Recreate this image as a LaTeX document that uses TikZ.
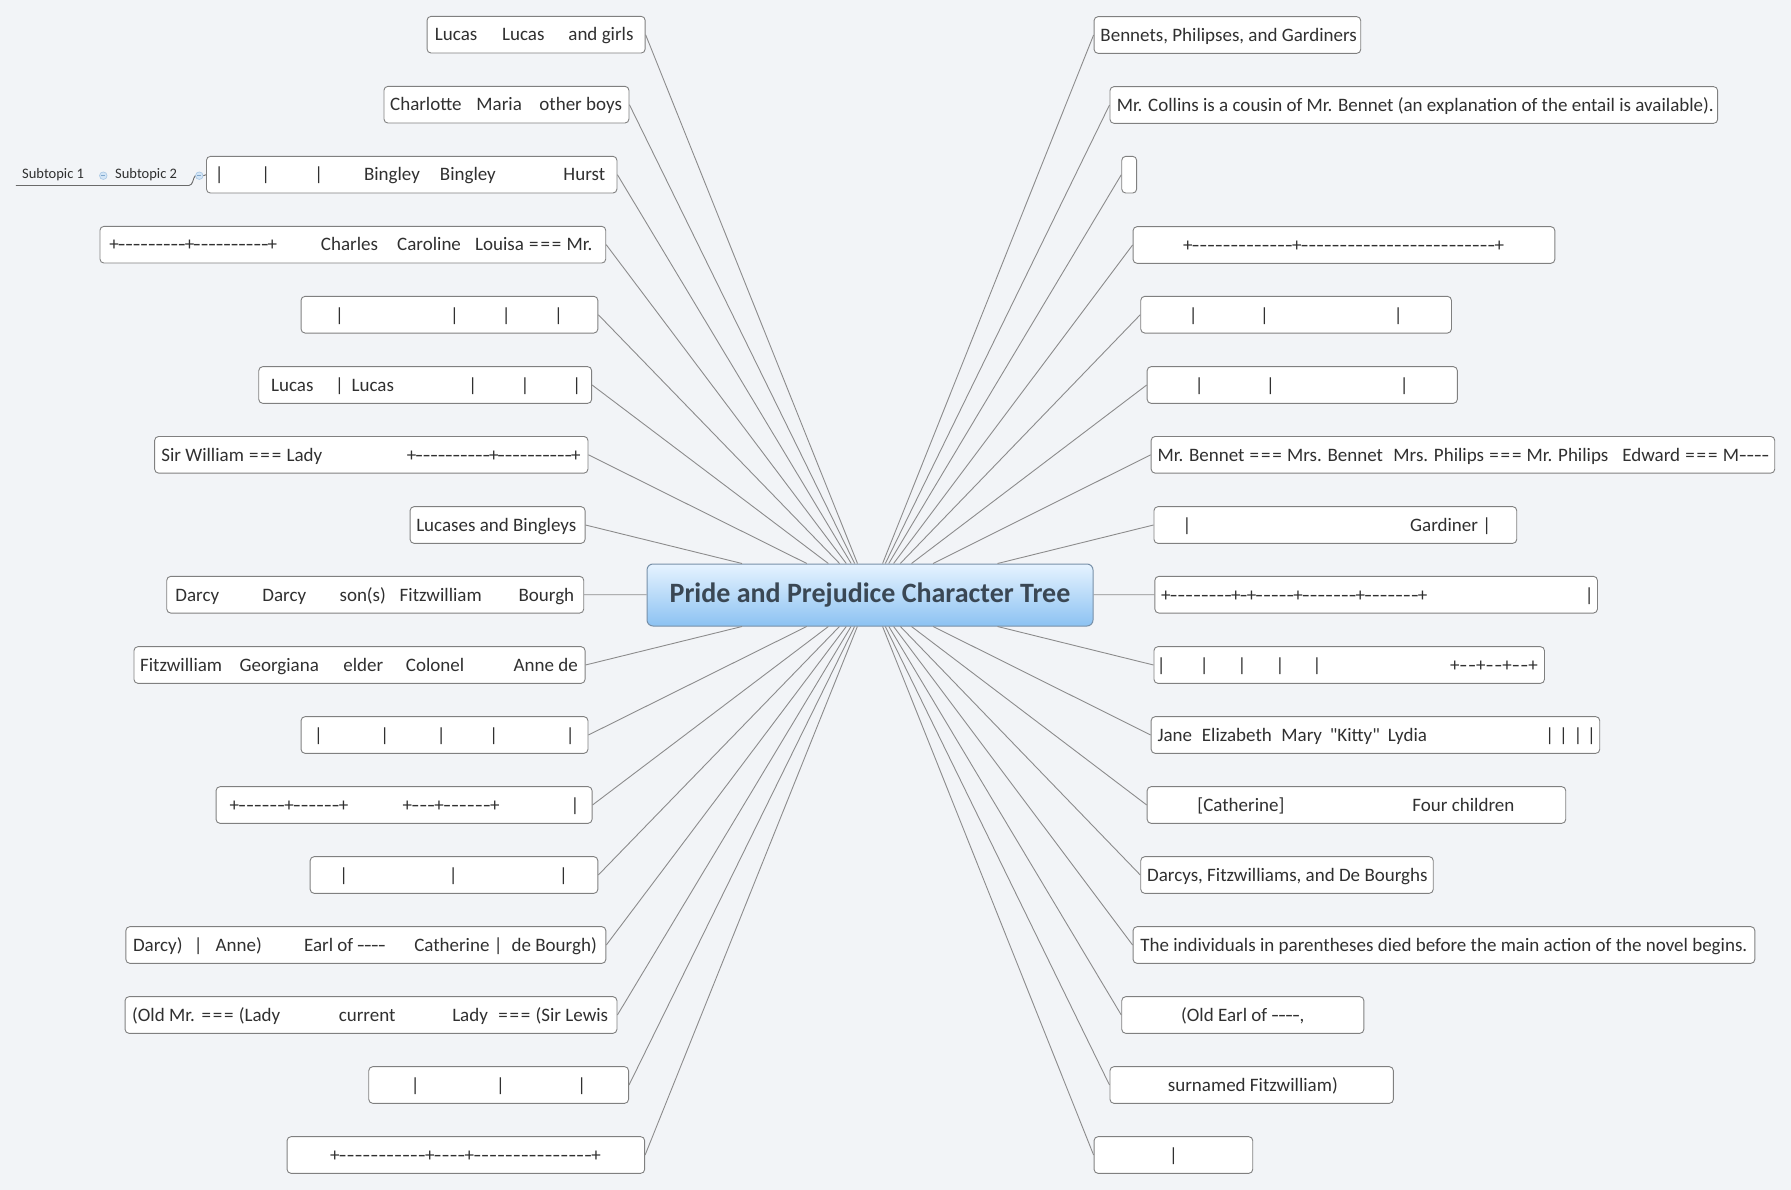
\documentclass[tikz,border=0pt]{standalone}
\usepackage{fontspec}
\usepackage{graphicx}
\setmainfont{Carlito}[Ligatures=TeXOff]
\definecolor{bg}{HTML}{F2F4F7}
\definecolor{boxline}{HTML}{808080}
\definecolor{connc}{HTML}{8C8C8C}
\definecolor{txt}{HTML}{303030}
\definecolor{cTop}{HTML}{E6F3FF}
\definecolor{cBot}{HTML}{8CC2F2}
\definecolor{cBorder}{HTML}{7890A8}
\definecolor{titlec}{HTML}{3A4754}
\definecolor{togfill}{HTML}{D3E5F6}
\definecolor{togline}{HTML}{A8C6E4}
\definecolor{togminus}{HTML}{7FA6CC}
\definecolor{subline}{HTML}{6A6A6A}
\ExplSyntaxOn
\dim_new:N \l_rs_char_dim
\NewDocumentCommand\dstr{mm}{
  \dim_set:Nn \l_rs_char_dim { #1pt / \tl_count:n {#2} }
  \tl_map_inline:nn {#2}{\makebox[\l_rs_char_dim]{\str_if_eq:nnTF{##1}{-}{\scalebox{1.3}[1]{-}}{##1}}}
}
\ExplSyntaxOff
\newcommand\fs{\fontsize{19pt}{22pt}\selectfont}
\newcommand\sg[2]{\rlap{\hspace*{#1pt}#2}}
\newcommand\pp[1]{\rlap{\hspace*{#1pt}\makebox[0pt]{|}}}
\newcommand\bx[2]{\hbox to #1pt{#2\hfil}}
\newcommand\eqs{\dstr{34}{===}}
\tikzset{
  box/.style={draw=boxline, fill=white, rounded corners=4pt, inner sep=0pt,
    minimum height=36.7pt, text height=13pt, text depth=0.4pt, anchor=west,
    font=\fs, text=txt, line width=0.9pt},
  conn/.style={draw=connc, line width=0.9pt},
  topic/.style={draw=cBorder, top color=cTop, bottom color=cBot, rounded corners=6pt,
    minimum width=446pt, minimum height=62pt, inner sep=0pt, line width=1pt,
    text height=19pt, text depth=3.6pt,
    font=\bfseries\fontsize{28pt}{30pt}\selectfont, text=titlec},
  sub/.style={inner sep=0pt, anchor=base west, font=\fontsize{14.5pt}{17pt}\selectfont, text=txt},
  tog/.style={circle, draw=togline, fill=togfill, minimum size=7.6pt, inner sep=0pt, line width=0.6pt,
    path picture={\draw[togminus, line width=0.8pt] ([xshift=-2pt]path picture bounding box.center) -- ([xshift=2pt]path picture bounding box.center);}},
  subl/.style={draw=subline, line width=0.9pt}
}
\begin{document}
\begin{tikzpicture}[x=1pt,y=-1pt]
\fill[bg] (0,0) rectangle (1791,1190);
\useasboundingbox (0,0) rectangle (1791,1190);

\node[topic] (c) at (870,595) {Pride and Prejudice Character Tree};

% left side
\node[box] (l1) at (426.6,34.7) {\bx{218.1}{\sg{7.9}{Lucas}\sg{75.1}{Lucas}\sg{141.4}{and girls}}};
\node[box] (l2) at (383.5,104.7) {\bx{245}{\sg{6.2}{Charlotte}\sg{92.5}{Maria}\sg{155.5}{other boys}}};
\node[box] (l3) at (206,174.7) {\bx{410.5}{\pp{12.9}\pp{59.3}\pp{112.4}\sg{157.6}{Bingley}\sg{233.5}{Bingley}\sg{357}{Hurst}}};
\node[box] (l4) at (99.5,244.7) {\bx{505.8}{\sg{10.4}{\dstr{165.8}{+---------+----------+}}\sg{221}{Charles}\sg{297.3}{Caroline}\sg{375.2}{Louisa \eqs{} Mr.}}};
\node[box] (l5) at (300.6,314.7) {\bx{296.8}{\pp{38.5}\pp{153.4}\pp{205.2}\pp{257.4}}};
\node[box] (l6) at (258.3,385) {\bx{332.9}{\sg{12.4}{Lucas}\pp{80.8}\sg{92.9}{Lucas}\pp{213.9}\pp{266.2}\pp{318}}};
\node[box] (l7) at (154.2,454.8) {\bx{433.3}{\sg{6.7}{Sir William \eqs{} Lady}\sg{253.3}{\dstr{171.7}{+----------+----------+}}}};
\node[box] (l8) at (409.6,525) {\bx{175}{\sg{6.2}{Lucases and Bingleys}}};
\node[box] (l9) at (166.3,594.7) {\bx{417}{\sg{8.7}{Darcy}\sg{95.7}{Darcy}\sg{172.8}{son(s)}\sg{233}{Fitzwilliam}\sg{351.9}{Bourgh}}};
\node[box] (l10) at (133.5,665) {\bx{451.1}{\sg{6.2}{Fitzwilliam}\sg{105.7}{Georgiana}\sg{209.4}{elder}\sg{272}{Colonel}\sg{379.8}{Anne de}}};
\node[box] (l11) at (300.6,735) {\bx{286.9}{\pp{17.4}\pp{83.7}\pp{140.1}\pp{192.8}\pp{269.1}}};
\node[box] (l12) at (215.6,805) {\bx{376}{\sg{14.5}{\dstr{116.9}{+------+------+}}\sg{187.4}{\dstr{95.3}{+---+------+}}\pp{359}}};
\node[box] (l13) at (309.7,875) {\bx{287.7}{\pp{33.6}\pp{143}\pp{253.3}}};
\node[box] (l14) at (125.4,945) {\bx{480}{\sg{7.2}{Darcy)}\pp{72.4}\sg{89.8}{Anne)}\sg{178.2}{Earl of \dstr{28}{----}}\sg{288.4}{Catherine |}\sg{385.8}{de Bourgh)}}};
\node[box] (l15) at (124.6,1015) {\bx{491.9}{\sg{7.1}{(Old Mr. \eqs{} (Lady}\sg{213.8}{current}\sg{327.2}{Lady}\sg{372.3}{\eqs{} (Sir Lewis}}};
\node[box] (l16) at (368.3,1085) {\bx{259.8}{\pp{46.4}\pp{131.7}\pp{213}}};
\node[box] (l17) at (286.6,1155) {\bx{357.6}{\sg{43.8}{\dstr{269.2}{+-----------+----+---------------+}}}};

% right side
\node[box] (r1) at (1093.6,35) {\bx{266.7}{\sg{6.4}{Bennets, Philipses, and Gardiners}}};
\node[box] (r2) at (1109.5,105) {\bx{607.7}{\sg{6.8}{Mr. Collins is a cousin of Mr. Bennet (an explanation of the entail is available).}}};
\node[box] (r3) at (1121.3,174.7) {\bx{14.9}{}};
\node[box] (r4) at (1132.6,245) {\bx{421.8}{\sg{50.8}{\dstr{319.3}{+-------------+-------------------------+}}}};
\node[box] (r5) at (1140.3,314.7) {\bx{310.7}{\pp{52.6}\pp{123.8}\pp{257.6}}};
\node[box] (r6) at (1146.7,385) {\bx{310.2}{\pp{52.1}\pp{123.3}\pp{257.1}}};
\node[box] (r7) at (1150.7,454.8) {\bx{623.6}{\sg{6.4}{Mr. Bennet \eqs{} Mrs. Bennet}\sg{242.3}{Mrs. Philips \eqs{} Mr. Philips}\sg{471.3}{Edward \eqs{} M\dstr{30}{----}}}};
\node[box] (r8) at (1153.5,525) {\bx{362.8}{\pp{33.1}\sg{256.2}{Gardiner |}}};
\node[box] (r9) at (1154.4,594.7) {\bx{442.6}{\sg{7.2}{\dstr{264.4}{+--------+-+-----+-------+-------+}}\pp{434.4}}};
\node[box] (r10) at (1153.5,665) {\bx{390.5}{\pp{7.2}\pp{50.3}\pp{88}\pp{126}\pp{163.2}\sg{296.5}{\dstr{87.1}{+--+--+--+}}}};
\node[box] (r11) at (1150.7,735) {\bx{448.6}{\sg{6.4}{Jane}\sg{50.8}{Elizabeth}\sg{130.3}{Mary}\sg{178.7}{"Kitty"}\sg{236.8}{Lydia}\pp{398.7}\pp{412.3}\pp{426.8}\pp{440.4}}};
\node[box] (r12) at (1146.7,805) {\bx{418.6}{\sg{50.3}{[Catherine]}\sg{265.3}{Four children}}};
\node[box] (r13) at (1140.3,875) {\bx{292.5}{\sg{6.4}{Darcys, Fitzwilliams, and De Bourghs}}};
\node[box] (r14) at (1132.6,945) {\bx{621.8}{\sg{7.3}{The individuals in parentheses died before the main action of the novel begins.}}};
\node[box] (r15) at (1121.3,1015) {\bx{242.1}{\sg{59.4}{(Old Earl of \dstr{28}{----},}}};
\node[box] (r16) at (1109.5,1085) {\bx{283.4}{\sg{58}{surnamed Fitzwilliam)}}};
\node[box] (r17) at (1093.6,1155) {\bx{158.7}{\pp{79.4}}};

% connectors
\foreach \n in {l1,l2,l3,l4,l5,l6,l7,l8,l9,l10,l11,l12,l13,l14,l15,l16,l17}
  \draw[conn] (c) -- (\n.east);
\foreach \n in {r1,r2,r3,r4,r5,r6,r7,r8,r9,r10,r11,r12,r13,r14,r15,r16,r17}
  \draw[conn] (c) -- (\n.west);

% subtopics
\node[sub] (s1) at (22,178.3) {Subtopic 1};
\node[sub] (s2) at (115,178.3) {Subtopic 2};
\node[tog] (t1) at (103.3,175.7) {};
\node[tog] (t2) at (199.3,175.7) {};
\coordinate (sl) at (15.8,185.5);
\coordinate (sr) at (189,185.5);
\draw[subl] (sl) -- (sr) .. controls (193,185.5) and (193,178) .. (t2.west);
\draw[subl] (t2.east) -- (l3.west);
\end{tikzpicture}
\end{document}
